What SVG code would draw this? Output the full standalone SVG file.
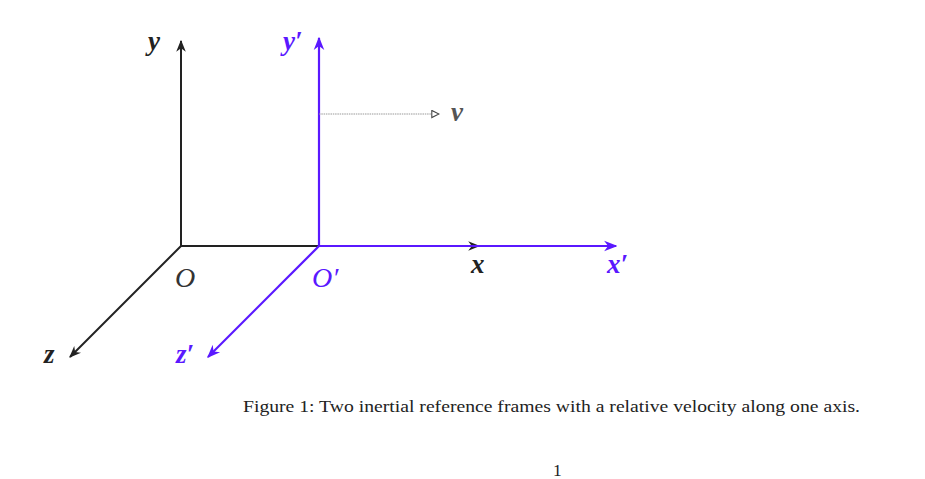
<svg xmlns="http://www.w3.org/2000/svg" width="925" height="479" viewBox="0 0 925 479">
<style>
.k{stroke:#222;stroke-width:2;fill:none}
.b{stroke:#5a18ff;stroke-width:2.2;fill:none}
.lbl{font-family:"Liberation Serif",serif;font-style:italic;font-weight:bold;font-size:27px}
.o{font-family:"Liberation Serif",serif;font-style:italic;font-size:28px}
.cap{font-family:"Liberation Serif",serif;font-size:17.5px;fill:#222}
</style>
<defs>
<marker id="ak" viewBox="0 0 10 10" refX="9" refY="5" markerWidth="6" markerHeight="6" orient="auto" markerUnits="strokeWidth"><path d="M0,1 L10,5 L0,9 L3,5 Z" fill="#222"/></marker>
<marker id="ab" viewBox="0 0 10 10" refX="9" refY="5" markerWidth="6" markerHeight="6" orient="auto" markerUnits="strokeWidth"><path d="M0,1 L10,5 L0,9 L3,5 Z" fill="#5a18ff"/></marker>
<marker id="av" viewBox="0 0 10 10" refX="9" refY="5" markerWidth="9" markerHeight="9" orient="auto" markerUnits="userSpaceOnUse"><path d="M1,1 L9,5 L1,9 Z" fill="#fff" stroke="#444" stroke-width="1.2"/></marker>
</defs>
<g id="connectors">
<line class="k" x1="181" y1="247" x2="181" y2="41" marker-end="url(#ak)"/>
<line class="k" x1="181" y1="246" x2="479" y2="246" marker-end="url(#ak)"/>
<line class="k" x1="181" y1="246" x2="70" y2="357" marker-end="url(#ak)"/>
<line class="b" x1="319" y1="247" x2="319" y2="38" marker-end="url(#ab)"/>
<line class="b" x1="319" y1="246" x2="616" y2="246" marker-end="url(#ab)"/>
<line class="b" x1="319" y1="246" x2="208" y2="357" marker-end="url(#ab)"/>
<line x1="319" y1="114" x2="439" y2="114" stroke="#999" stroke-width="1" stroke-dasharray="1.5 0.8" marker-end="url(#av)"/>
</g>
<g id="labels">
<text class="lbl" x="148" y="50" fill="#222">y</text>
<text class="lbl" x="283" y="50" fill="#5a18ff">y′</text>
<text class="lbl" x="451" y="121" fill="#555">v</text>
<text class="o" x="175" y="287" fill="#333">O</text>
<text class="o" x="312" y="287" fill="#5a18ff">O′</text>
<text class="lbl" x="471" y="273" fill="#222">x</text>
<text class="lbl" x="607" y="273" fill="#5a18ff">x′</text>
<text class="lbl" x="44" y="363" fill="#222">z</text>
<text class="lbl" x="176" y="363" fill="#5a18ff">z′</text>
</g>
<text class="cap" x="243" y="412" textLength="617" lengthAdjust="spacingAndGlyphs">Figure 1: Two inertial reference frames with a relative velocity along one axis.</text>
<text class="cap" x="553" y="476">1</text>
</svg>
